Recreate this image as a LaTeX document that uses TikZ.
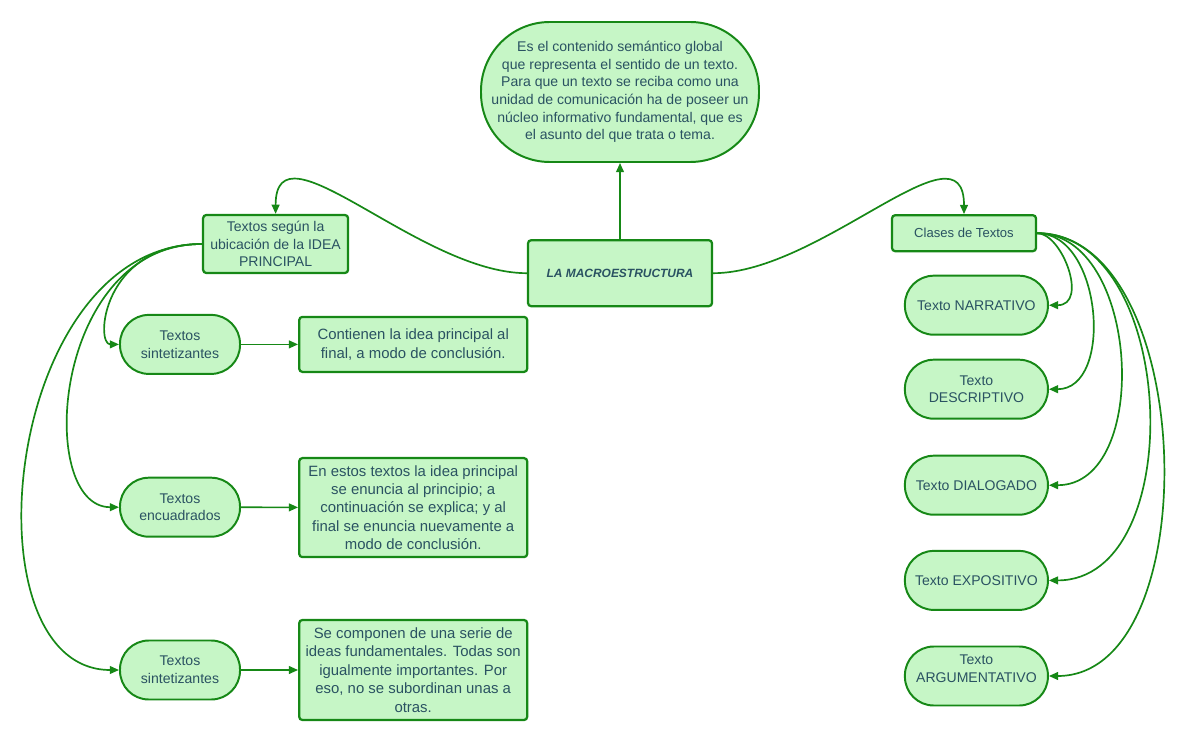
\documentclass[tikz,border=0pt]{standalone}
\usepackage{fontspec}
\setmainfont{Liberation Sans}
\usetikzlibrary{arrows.meta}
\definecolor{hoja}{RGB}{198,246,198}
\definecolor{borde}{RGB}{22,136,22}
\definecolor{letra}{RGB}{42,82,98}

\begin{document}
\begin{tikzpicture}[
	every node/.style={fill=hoja,draw=borde,text=letra,align=center,inner sep=1pt,font=\fontsize{10}{12.6}\selectfont},
	caja/.style={rounded corners=0.08cm,line width=1.6pt},
	capsula/.style={rounded corners=0.72cm,line width=1.4pt,minimum width=3.575cm,minimum height=1.475cm},
	flecha/.style={draw=borde,line width=1.2pt,-{Triangle[length=6.5pt,width=5.5pt]}}]
	\useasboundingbox (0,0) rectangle (30,-18.6);
	% centro
	\node[capsula,rounded corners=1.72cm,minimum width=6.95cm,minimum height=3.5cm] (tema) at (15.5,-2.3) {Es el contenido semántico global\\ que representa el sentido de un texto.\\ Para que un texto se reciba como una\\ unidad de comunicación ha de poseer un\\ núcleo informativo fundamental, que es\\ el asunto del que trata o tema.};
	\node[caja,minimum width=4.6cm,minimum height=1.65cm,font=\bfseries\itshape\fontsize{8.5}{10}\selectfont] (macro) at (15.5,-6.83) {LA MACROESTRUCTURA};
	\node[caja,minimum width=3.625cm,minimum height=1.45cm] (ubic) at (6.89,-6.1) {Textos según la\\ ubicación de la IDEA\\ PRINCIPAL};
	\node[caja,minimum width=3.6cm,minimum height=0.9cm,font=\fontsize{9.3}{11}\selectfont] (clases) at (24.1,-5.83) {Clases de Textos};
	% izquierda
	\begin{scope}[every node/.append style={capsula,minimum width=3cm}]
	\node (sint1) at (4.5,-8.61) {Textos\\ sintetizantes};
	\node (encu) at (4.5,-12.68) {Textos\\ encuadrados};
	\node (sint2) at (4.5,-16.75) {Textos\\ sintetizantes};
	\end{scope}
	\begin{scope}[every node/.append style={caja,minimum width=5.7cm,font=\fontsize{10.6}{13.1}\selectfont}]
	\node[minimum height=1.375cm] (def1) at (10.33,-8.61) {Contienen la idea principal al\\ final, a modo de conclusión.};
	\node[minimum height=2.475cm] (def2) at (10.33,-12.69) {En estos textos la idea principal\\ se enuncia al principio; a\\ continuación se explica; y al\\ final se enuncia nuevamente a\\ modo de conclusión.};
	\node[minimum height=2.5cm] (def3) at (10.33,-16.75) {Se componen de una serie de\\ ideas fundamentales. Todas son\\ igualmente importantes. Por\\ eso, no se subordinan unas a\\ otras.};
	\end{scope}
	% derecha
	\begin{scope}[every node/.append style={capsula}]
	\node (narr) at (24.41,-7.63) {Texto NARRATIVO};
	\node (desc) at (24.41,-9.73) {Texto\\ DESCRIPTIVO};
	\node (dial) at (24.41,-12.13) {Texto DIALOGADO};
	\node (expo) at (24.41,-14.51) {Texto EXPOSITIVO};
	\node[text depth=10pt] (argu) at (24.41,-16.9) {Texto\\ ARGUMENTATIVO};
	\end{scope}
	\draw [flecha] (macro) -- (tema);
	\draw [flecha] (macro.west) to[out=180,in=90,out distance=2.7cm,in distance=2.4cm] (ubic.north);
	\draw [flecha] (macro.east) to[out=0,in=90,out distance=2.7cm,in distance=2.4cm] (clases.north);
	\draw [flecha] (ubic.west) to[out=180,in=180,out distance=2.5cm,in distance=0.6cm] (sint1.west);
	\draw [flecha] (ubic.west) to[out=180,in=180,out distance=3.75cm,in distance=2.1cm] (encu.west);
	\draw [flecha] (ubic.west) to[out=180,in=180,out distance=5cm,in distance=3.9cm] (sint2.west);
	\draw [flecha] (sint1) -- (def1);
	\draw [flecha] (encu) -- (def2);
	\draw [flecha] (sint2) -- (def3);
	\draw [flecha] (clases.east) to[out=0,in=0,out distance=0.63cm,in distance=1cm] (narr.east);
	\draw [flecha] (clases.east) to[out=0,in=0,distance=1.63cm] (desc.east);
	\draw [flecha] (clases.east) to[out=0,in=0,distance=2.58cm] (dial.east);
	\draw [flecha] (clases.east) to[out=0,in=0,distance=3.53cm] (expo.east);
	\draw [flecha] (clases.east) to[out=0,in=0,distance=4cm] (argu.east);
\end{tikzpicture}
\end{document}
